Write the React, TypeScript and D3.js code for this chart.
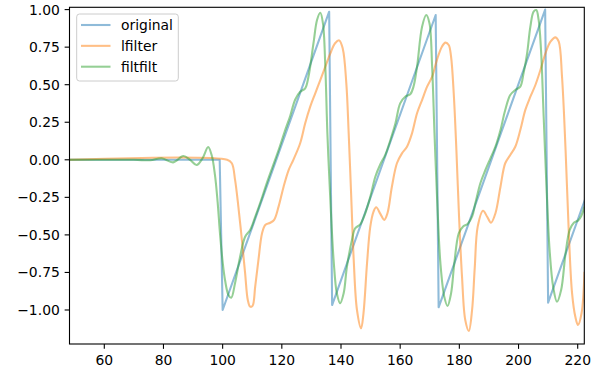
import { useEffect, useRef } from 'react'
import * as d3 from 'd3'

type Pt = [number, number]

// sawtooth input, read at its corners (straight between them)
const originalPts: Pt[] = [
  [48, 0], [99, 0], [100, -1.0], [136, 0.986], [137, -0.967], [172, 0.964],
  [173, -0.982], [209, 1.0], [210, -0.951], [223, -0.235],
]

const lfilterPts: Pt[] = [
  [48, 0], [101.5, 0], [103.1, -0.023], [104.2, -0.134], [105.3, -0.31], [106.5, -0.534],
  [107.6, -0.756], [108.5, -0.933], [109.3, -0.978], [110.1, -0.973], [111, -0.845],
  [112.1, -0.667], [113.3, -0.49], [114.4, -0.434], [116.1, -0.419], [117.4, -0.4],
  [118.9, -0.312], [120.6, -0.179], [122.3, -0.068], [123.9, 0], [126.2, 0.11],
  [127.9, 0.243], [129.6, 0.354], [131.3, 0.443], [133, 0.531], [134.7, 0.62],
  [136.4, 0.709], [138, 0.776], [139.4, 0.795], [140.6, 0.74], [141.8, 0.509],
  [142.6, 0.176], [143.5, -0.268], [144.3, -0.667], [145.4, -1.0], [146.8, -1.122],
  [147.6, -1.022], [148.8, -0.689], [149.9, -0.445], [151, -0.345], [151.9, -0.316],
  [153.3, -0.36], [154.6, -0.4], [155.7, -0.356], [157.2, -0.179], [158.9, -0.023],
  [160.6, 0.043], [162.3, 0.087], [164, 0.176], [165.7, 0.31], [167.4, 0.398],
  [169.1, 0.487], [170.8, 0.553], [172.4, 0.664], [174.1, 0.753], [175.3, 0.78],
  [176.4, 0.764], [177.2, 0.686], [178.1, 0.443], [179, 0.065], [179.9, -0.379],
  [180.9, -0.778], [182, -1.067], [183.2, -1.14], [184.3, -1.0], [185.2, -0.72],
  [186.2, -0.445], [188, -0.339], [189.4, -0.379], [190.7, -0.419], [192.2, -0.356],
  [193.9, -0.179], [195.5, -0.023], [197.2, 0.032], [198.9, 0.087], [200.6, 0.198],
  [202.3, 0.332], [204, 0.42], [205.7, 0.498], [207.4, 0.598], [209.1, 0.709],
  [210.8, 0.786], [212.5, 0.815], [213.6, 0.786], [214.7, 0.553], [215.9, 0.065],
  [217, -0.49], [218.1, -0.889], [219.2, -1.045], [220.1, -1.1], [221.3, -1.022],
  [222.3, -0.745],
]

const filtfiltPts: Pt[] = [
  [48, 0], [70, 0], [75.5, -0.003], [79.4, 0.01], [83.3, -0.017], [86.7, 0.025],
  [89, 0.0], [91.2, -0.035], [93.2, 0.01], [95.1, 0.085], [96.3, 0.03], [97.4, -0.1],
  [98.3, -0.28], [99.1, -0.49], [100, -0.68], [100.8, -0.8], [101.95, -0.9],
  [102.9, -0.918], [104.2, -0.82], [105.9, -0.645], [107.6, -0.512], [109.3, -0.467],
  [111, -0.38], [113, -0.27], [115, -0.15], [117, -0.04], [119, 0.07], [121, 0.19],
  [122.8, 0.29], [124.5, 0.4], [126.2, 0.453], [127.9, 0.476], [129, 0.553],
  [130.7, 0.776], [131.9, 0.931], [133, 0.979], [133.9, 0.909], [134.7, 0.62],
  [135.4, 0.176], [136.4, -0.268], [137.5, -0.667], [138.6, -0.889], [139.7, -0.955],
  [140.9, -0.889], [142, -0.712], [143.7, -0.534], [144.8, -0.456], [146.5, -0.43],
  [148.2, -0.356], [149.9, -0.246], [151.6, -0.113], [153.3, -0.03], [155, 0.035],
  [156.7, 0.132], [158.4, 0.243], [160, 0.376], [161.7, 0.42], [163.4, 0.436],
  [164.5, 0.487], [165.7, 0.62], [167.4, 0.886], [168.8, 0.964], [169.9, 0.909],
  [170.8, 0.62], [171.6, 0.176], [172.5, -0.268], [173.6, -0.689], [174.9, -0.911],
  [176, -0.973], [177.2, -0.889], [178.3, -0.689], [179.8, -0.49], [181.2, -0.445],
  [182.8, -0.427], [184.3, -0.379], [185.4, -0.29], [187.1, -0.156], [188.8, -0.068],
  [190.5, 0.01], [192.2, 0.087], [193.9, 0.198], [195.5, 0.332], [197.2, 0.431],
  [198.9, 0.465], [200.6, 0.487], [201.7, 0.576], [202.9, 0.709], [204, 0.886],
  [205.1, 0.986], [206, 0.997], [206.8, 0.931], [207.6, 0.731], [208.5, 0.287],
  [209.4, -0.156], [210.5, -0.6], [211.7, -0.845], [213, -0.945], [214.4, -0.867],
  [215.9, -0.623], [217.3, -0.467], [218.7, -0.419], [220.1, -0.405], [221.2, -0.374],
  [222.3, -0.312],
]

const xTicks = [60, 80, 100, 120, 140, 160, 180, 200, 220]
const yTicks = [-1, -0.75, -0.5, -0.25, 0, 0.25, 0.5, 0.75, 1]
const seriesNames = ['original', 'lfilter', 'filtfilt']
const seriesColors = ['#1f77b4', '#ff7f0e', '#2ca02c']

const font = 'DejaVu Sans, sans-serif'

const App = () => {
  const svgRef = useRef<SVGSVGElement>(null)

  useEffect(() => {
    if (!svgRef.current) return

    const width = 616
    const height = 370
    const margin = { top: 7.3, right: 31.7, bottom: 26, left: 69.5 }
    const innerW = width - margin.left - margin.right
    const innerH = height - margin.top - margin.bottom

    const root = d3.select(svgRef.current)
    root.selectAll('*').remove()
    root.attr('width', width).attr('height', height)

    root.append('defs').append('clipPath')
      .attr('id', 'plot-clip')
      .append('rect')
      .attr('width', innerW)
      .attr('height', innerH)

    const svg = root.append('g')
      .attr('transform', `translate(${margin.left},${margin.top})`)

    const x = d3.scaleLinear().domain([48.24, 222.23]).range([0, innerW])
    const y = d3.scaleLinear().domain([-1.2264, 1.0153]).range([innerH, 0])

    const line = d3.line<Pt>().x(d => x(d[0])).y(d => y(d[1]))
    const smooth = d3.line<Pt>().x(d => x(d[0])).y(d => y(d[1]))
      .curve(d3.curveCatmullRom.alpha(0.5))

    const plot = svg.append('g').attr('clip-path', 'url(#plot-clip)')
    const series: [Pt[], d3.Line<Pt>][] = [
      [originalPts, line],
      [lfilterPts, smooth],
      [filtfiltPts, smooth],
    ]
    series.forEach(([pts, gen], i) => {
      plot.append('path')
        .attr('d', gen(pts))
        .style('fill', 'none')
        .style('stroke', seriesColors[i])
        .style('stroke-opacity', 0.5)
        .style('stroke-width', '2.08px')
        .style('stroke-linejoin', 'round')
    })

    // axes frame
    svg.append('rect')
      .attr('width', innerW)
      .attr('height', innerH)
      .style('fill', 'none')
      .style('stroke', '#000')
      .style('stroke-width', '1.1px')

    const fmt = (v: number) => d3.format('.2f')(v).replace('-', '\u2212')

    const xt = svg.selectAll('.xtick').data(xTicks).enter().append('g')
      .attr('transform', d => `translate(${x(d)},${innerH})`)
    xt.append('line').attr('y2', 4.86).style('stroke', '#000').style('stroke-width', '1.1px')
    xt.append('text')
      .attr('y', 21)
      .attr('text-anchor', 'middle')
      .style('font-family', font)
      .style('font-size', '13.9px')
      .text(d => String(d))

    const yt = svg.selectAll('.ytick').data(yTicks).enter().append('g')
      .attr('transform', d => `translate(0,${y(d)})`)
    yt.append('line').attr('x2', -4.86).style('stroke', '#000').style('stroke-width', '1.1px')
    yt.append('text')
      .attr('x', -9.7)
      .attr('dy', 5)
      .attr('text-anchor', 'end')
      .style('font-family', font)
      .style('font-size', '13.9px')
      .text(d => fmt(d))

    // legend
    const legend = root.append('g')
    legend.append('rect')
      .attr('x', 76.7).attr('y', 14)
      .attr('width', 101.6).attr('height', 67)
      .attr('rx', 2.8)
      .style('fill', '#fff')
      .style('fill-opacity', 0.8)
      .style('stroke', '#cccccc')
      .style('stroke-width', '1px')
    seriesNames.forEach((name, i) => {
      const cy = 25 + i * 20.85
      legend.append('line')
        .attr('x1', 81).attr('x2', 110.5)
        .attr('y1', cy).attr('y2', cy)
        .style('stroke', seriesColors[i])
        .style('stroke-opacity', 0.5)
        .style('stroke-width', '2.08px')
      legend.append('text')
        .attr('x', 121).attr('y', cy + 5)
        .style('font-family', font)
        .style('font-size', '13.9px')
        .text(name)
    })
  }, [])

  return <svg ref={svgRef} style={{ position: 'absolute', left: 0, top: 0 }}></svg>
}

export default App
